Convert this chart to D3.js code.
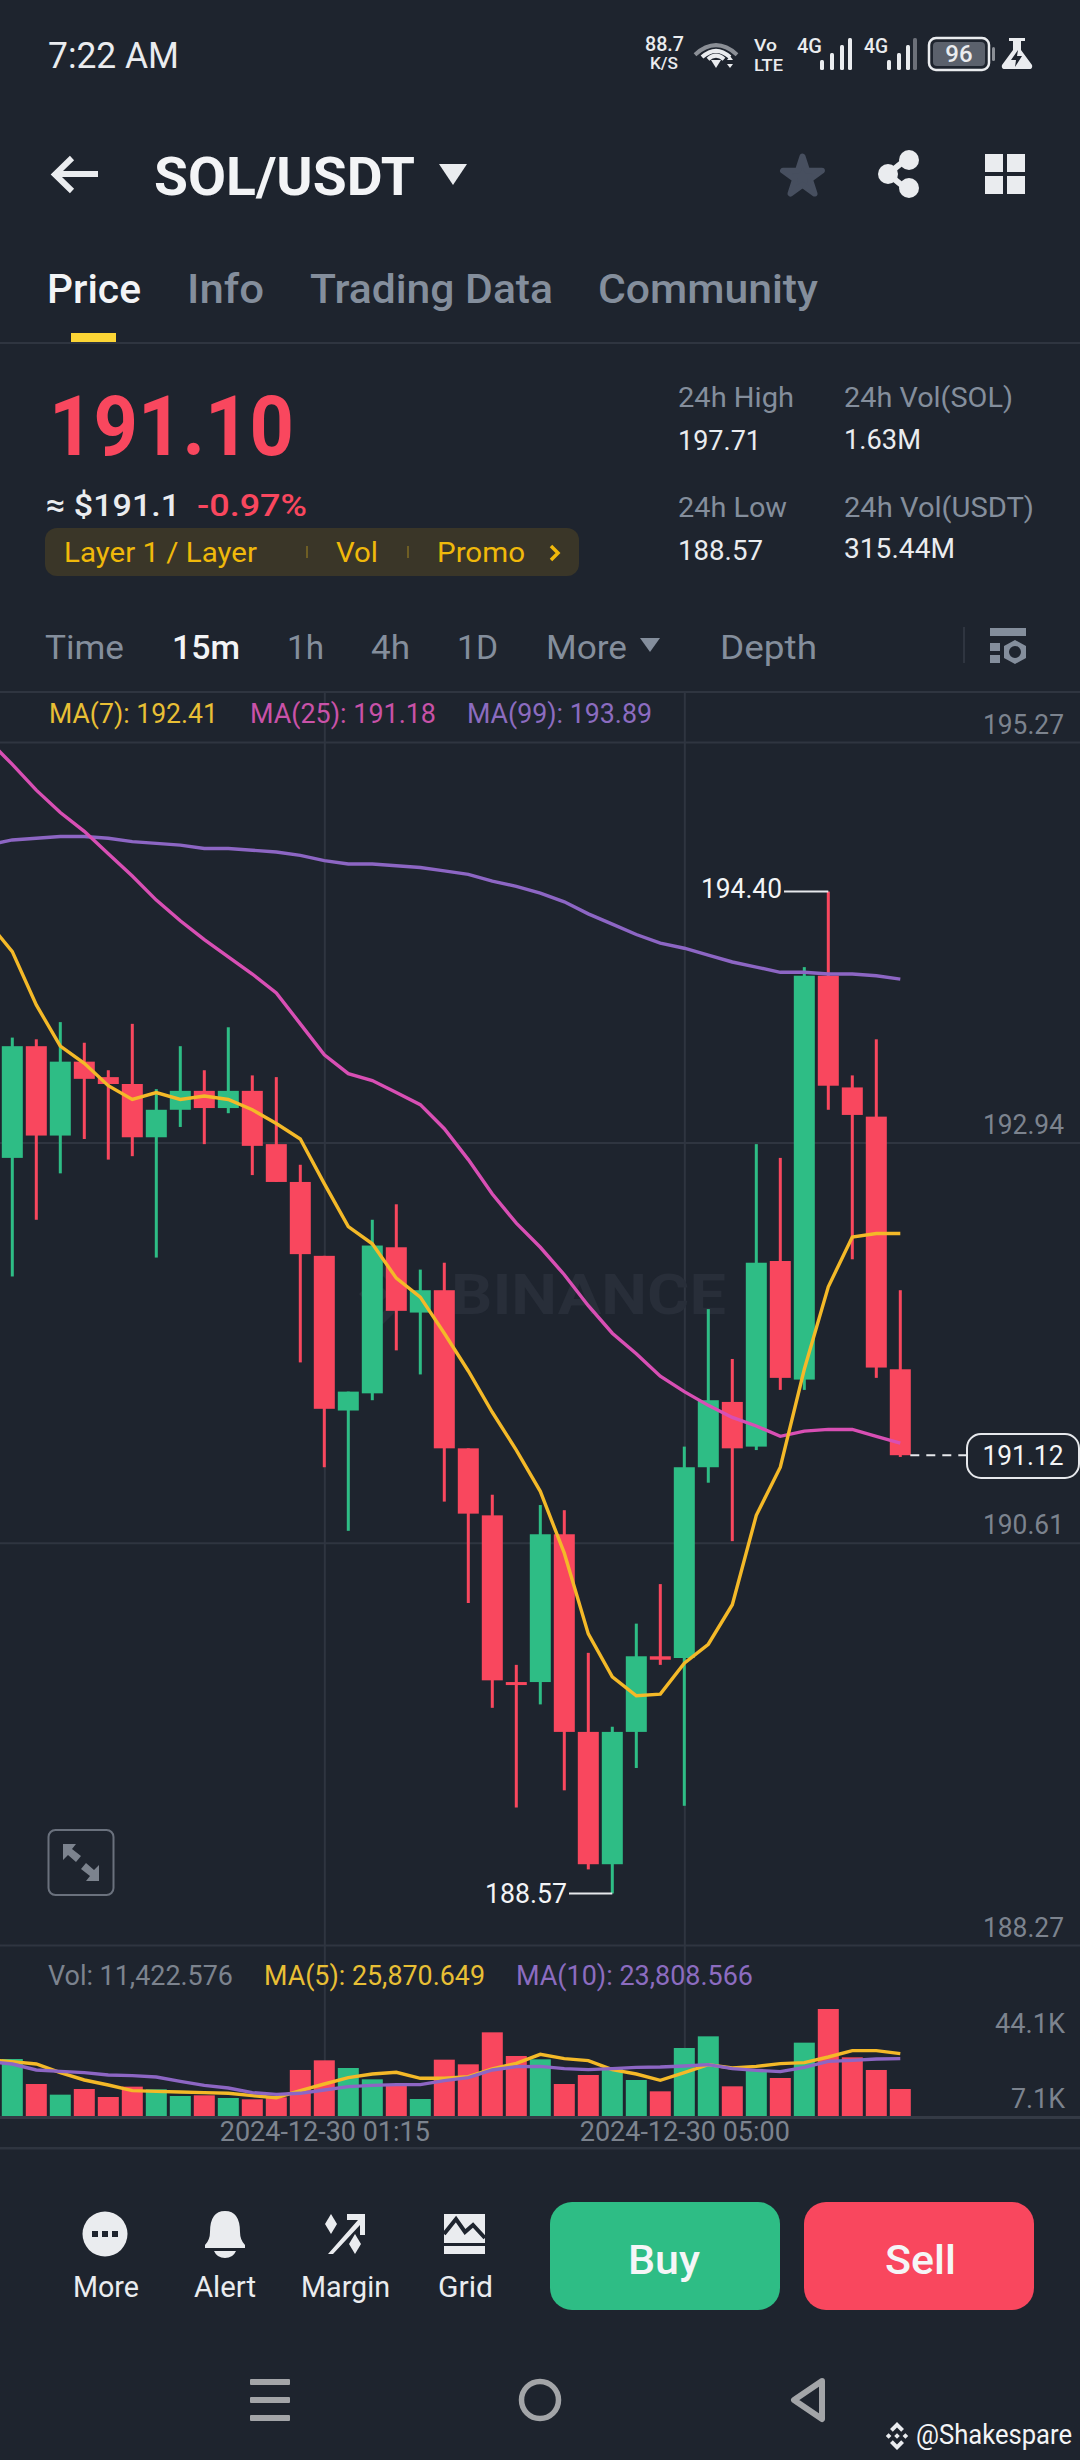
<!DOCTYPE html>
<html>
<head>
<meta charset="utf-8">
<script src="https://cdnjs.cloudflare.com/ajax/libs/d3/7.8.5/d3.min.js"></script>
<style>
html,body{margin:0;padding:0;background:#1e242e;}
svg{display:block;font-family:Roboto,"Noto Sans",sans-serif;}
</style>
</head>
<body>
<svg id="c" width="1080" height="2460"></svg>
<script>
// ---------- data ----------
const candleOpen  = [192.85,193.50,192.98,193.41,193.32,193.28,192.97,193.13,193.24,193.14,193.24,192.93,192.71,192.28,191.38,191.48,192.33,191.95,192.08,191.16,190.77,189.80,189.80,190.66,189.51,188.74,189.51,189.95,189.94,191.05,191.43,191.17,192.25,191.56,193.91,193.26,193.09,191.62];
const candleClose = [193.50,192.98,193.41,193.31,193.28,192.97,193.13,193.24,193.14,193.24,192.92,192.71,192.29,191.39,191.49,192.34,191.96,192.08,191.16,190.78,189.81,189.79,190.66,189.51,188.74,189.51,189.95,189.93,191.05,191.44,191.16,192.24,191.57,193.91,193.27,193.10,191.63,191.12];
const candleHigh  = [193.55,193.54,193.64,193.52,193.36,193.63,193.25,193.50,193.36,193.61,193.33,193.32,192.81,192.28,191.49,192.49,192.58,192.20,192.24,191.16,190.89,189.90,190.83,190.80,189.97,189.54,190.14,190.37,191.17,191.97,191.68,192.93,192.85,193.96,194.40,193.33,193.54,192.08];
const candleLow   = [192.16,192.49,192.76,192.96,192.84,192.86,192.27,193.03,192.93,193.11,192.75,192.71,191.66,191.05,190.68,191.44,191.73,191.59,190.85,190.26,189.65,189.07,189.67,189.17,188.71,188.57,189.30,189.90,189.08,190.96,190.62,191.15,191.50,191.50,193.13,192.26,191.57,191.11];
// moving averages: first value belongs to the candle just off the left edge
const ma7  = [194.22,194.05,193.74,193.50,193.40,193.27,193.19,193.23,193.19,193.21,193.19,193.13,193.05,192.96,192.70,192.45,192.35,192.15,192.04,191.83,191.61,191.37,191.15,190.91,190.55,190.08,189.83,189.72,189.73,189.91,190.02,190.25,190.77,191.05,191.62,192.10,192.39,192.41,192.41];
const ma25 = [195.28,195.14,194.99,194.86,194.75,194.62,194.49,194.35,194.23,194.12,194.02,193.92,193.81,193.63,193.45,193.34,193.30,193.23,193.16,193.02,192.84,192.64,192.47,192.33,192.17,191.99,191.83,191.71,191.58,191.49,191.41,191.34,191.29,191.23,191.26,191.27,191.27,191.23,191.19];
const ma99 = [194.67,194.70,194.71,194.72,194.72,194.71,194.69,194.68,194.67,194.65,194.65,194.64,194.63,194.61,194.58,194.56,194.56,194.55,194.54,194.52,194.50,194.46,194.43,194.39,194.34,194.27,194.21,194.15,194.10,194.07,194.03,193.99,193.96,193.93,193.93,193.92,193.92,193.91,193.89];
const volume = [23660,13460,9110,11420,8160,12380,11290,8570,8840,7750,7210,8020,19180,23120,19990,15370,12650,7340,23390,21490,34540,24890,23530,13460,17140,19990,15100,10470,28150,32910,12510,19180,15910,30330,44060,24340,19180,11423];
const volMa5  = [23260,22580,21620,18090,15100,13060,10740,10470,10200,9930,9660,8700,7890,10740,13460,16050,17540,18220,15780,15780,16460,19580,21900,25570,23800,22980,19310,17540,14960,18090,21350,19990,20670,21760,22170,24480,27060,27060,25871];
const volMa10 = [22580,21620,19180,18630,18090,17140,16860,16320,14550,12920,11830,9930,9250,9660,11020,12380,12920,13190,13190,14820,16050,19180,20540,20670,19720,19310,19720,20260,20400,20810,21350,19720,19040,18500,20260,22710,23120,23660,23809];
const priceTicks = [195.27,192.94,190.61,188.27];
const timeTickIndex = [13,28];
const timeTickLabels = ["2024-12-30 01:15","2024-12-30 05:00"];
const lastPrice = 191.12, peakPrice = 194.40, troughPrice = 188.57;
const peakIndex = 34, troughIndex = 25, lastIndex = 37;

// ---------- palette ----------
const BG="#1e242e", GRID="#2f3540", GREEN="#2ebd85", RED="#f9475e", YEL="#f0b90b", LINE7="#f4b928", LINE25="#d84fb4", LINE99="#8d66c4";
const TXT="#eaecef", GREY="#848e9c", AXIS="#7c838e";

const svg=d3.select("#c");
const T=(x,y,s,size,fill,o={})=>{
  const t=svg.append("text").attr("x",x).attr("y",y).attr("font-size",size).attr("fill",fill).text(s);
  if(o.w){t.attr("textLength",o.w).attr("lengthAdjust","spacingAndGlyphs");}
  if(o.weight)t.attr("font-weight",o.weight);
  if(o.anchor)t.attr("text-anchor",o.anchor);
  return t;
};
const P=(d,fill,extra={})=>{const p=svg.append("path").attr("d",d).attr("fill",fill);for(const k in extra)p.attr(k,extra[k]);return p;};
const R=(x,y,w,h,fill,r=0)=>svg.append("rect").attr("x",x).attr("y",y).attr("width",w).attr("height",h).attr("fill",fill).attr("rx",r);

// ---------- scales ----------
const x=d3.scaleLinear().domain([0,37]).range([12.3,900.3]);
const y=d3.scaleLinear().domain([195.27,188.27]).range([742,1945]);
const yVol=d3.scaleLinear().domain([0,44060]).range([2117,2009]);
const BODY=21, WICK=3;

// ---------- status bar ----------
T(48,68,"7:22 AM",36,TXT,{w:131});
T(645,51,"88.7",20,TXT,{w:39,weight:500});
T(650,69,"K/S",17,TXT,{w:28,weight:500});
// wifi
[[21,"#8b8f96"],[14,TXT],[8,TXT]].forEach(([r,c])=>P(`M${716-r} ${62-r*0.35} Q716 ${62-r*1.25} ${716+r} ${62-r*0.35}`,"none",{stroke:c,"stroke-width":4}));
P("M711 60 H721 L716 68 Z",TXT);
P("M727 60 L730 56 L733 60 Z M727 64 H733 L730 68 Z",TXT);
T(754,51,"Vo",17,TXT,{w:23,weight:500});
T(754,71,"LTE",17,TXT,{w:29,weight:500});
T(797,53,"4G",20,TXT,{w:25,weight:500});
T(864,53,"4G",20,TXT,{w:24,weight:500});
[[820,60,TXT],[830,53,TXT],[840,45,TXT],[848,38,TXT],[887,60,TXT],[897,53,TXT],[906,45,TXT],[913,38,"#6c7079"]].forEach(([bx,by,c])=>R(bx,by,4,70-by,c,1.5));
R(929,38,60,32,"none",7).attr("stroke",TXT).attr("stroke-width",2.5);
R(933,42,52,24,"#5b616c",4);
T(959,62,"96",24,TXT,{anchor:"middle",weight:500});
R(992,47,3,14,"#8b8f96",1.5);
P("M1009 38 H1025 V41 H1021 V50 L1032 65 Q1033 69 1029 69 H1005 Q1001 69 1002 65 L1013 50 V41 H1009 Z",TXT);
P("M1018 50 L1011 60 H1016 L1015 67 L1022 56 H1017 Z",BG);

// ---------- header ----------
P("M98 174 H56 M72 158 L55 174.5 L72 191","none",{stroke:TXT,"stroke-width":6});
T(154,195,"SOL/USDT",53,"#f3f4f6",{w:261,weight:700});
P("M439 164 H467 L453 185 Z",TXT);
svg.append("path").attr("d",d3.symbol().type(d3.symbolStar).size(470)()).attr("transform","translate(802.5,177)").attr("fill","#474f5f").attr("stroke","#474f5f").attr("stroke-width",6).attr("stroke-linejoin","round");
P("M909 157 L888 174 L909 191","none",{stroke:TXT,"stroke-width":6});
[[909,160],[888,174],[909,188]].forEach(([cx,cy])=>svg.append("circle").attr("cx",cx).attr("cy",cy).attr("r",10).attr("fill",TXT));
[[985,154],[1007,154],[985,176],[1007,176]].forEach(([rx,ry])=>R(rx,ry,18,18,TXT));

// ---------- tabs ----------
T(47,303,"Price",40,"#f3f4f6",{w:94,weight:500});
T(187,303,"Info",40,GREY,{w:77,weight:500});
T(310,303,"Trading Data",40,GREY,{w:243,weight:500});
T(598,303,"Community",40,GREY,{w:220,weight:500});
R(71,333,45,9,"#fcd535");
R(0,342,1080,2,GRID);

// ---------- price block ----------
T(49,455,"191.10",84,RED,{w:245,weight:700});
T(46,516,"≈ $191.1",32,TXT,{w:134,weight:500});
T(197,516,"-0.97%",32,RED,{w:110,weight:500});
R(45,528,534,48,"#3a3628",12);
T(64,562,"Layer 1 / Layer",28,YEL,{w:193});
R(306,546,2,12,"#6e5e24");
T(336,562,"Vol",28,YEL,{w:42});
R(407,546,2,12,"#6e5e24");
T(437,562,"Promo",28,YEL,{w:88});
P("M551 546 L558 553 L551 560","none",{stroke:YEL,"stroke-width":3.5});
T(678,407,"24h High",28,GREY,{w:116});
T(844,407,"24h Vol(SOL)",28,GREY,{w:169});
T(678,450,"197.71",28,TXT,{w:83});
T(844,449,"1.63M",28,TXT,{w:77});
T(678,517,"24h Low",28,GREY,{w:109});
T(844,517,"24h Vol(USDT)",28,GREY,{w:190});
T(678,560,"188.57",28,TXT,{w:85});
T(844,558,"315.44M",28,TXT,{w:111});

// ---------- interval row ----------
T(45,659,"Time",34,GREY,{w:79});
T(172,659,"15m",34,"#f3f4f6",{w:68,weight:500});
T(287,659,"1h",34,GREY,{w:37});
T(371,659,"4h",34,GREY,{w:39});
T(457,659,"1D",34,GREY,{w:41});
T(546,659,"More",34,GREY,{w:81});
P("M640 638 H660 L650 652 Z",GREY);
T(720,659,"Depth",34,GREY,{w:97});
R(963,627,2,36,GRID);
R(990,628,36,8,GREY);
R(990,643,10,8,GREY);
R(990,655,10,8,GREY);
P("M1015 640 L1026 646 V658 L1015 664 L1004 658 V646 Z M1015 646 A6 6 0 1 0 1015 658 A6 6 0 1 0 1015 646 Z",GREY,{"fill-rule":"evenodd"});
R(0,691,1080,2,GRID);

// ---------- chart grid, drawn by d3 axes ----------
const gridY=svg.append("g").call(d3.axisRight(y).tickValues(priceTicks).tickSize(1080).tickFormat(d3.format(".2f")));
gridY.select(".domain").remove();
gridY.selectAll("line").attr("stroke",GRID).attr("stroke-width",2);
gridY.selectAll("text").attr("x",1064).attr("dy",-9).attr("text-anchor","end").attr("font-size",27).attr("fill",AXIS).attr("font-family","Roboto").attr("textLength",81).attr("lengthAdjust","spacingAndGlyphs");

const gridX=svg.append("g").attr("transform","translate(0,2117)")
  .call(d3.axisBottom(x).tickValues(timeTickIndex).tickSize(-1425).tickPadding(0).tickFormat((d,i)=>timeTickLabels[i]));
gridX.select(".domain").remove();
gridX.selectAll("line").attr("stroke",GRID).attr("stroke-width",2);
gridX.selectAll("text").attr("y",24).attr("dy",0).attr("font-size",27).attr("fill",AXIS).attr("font-family","Roboto").attr("textLength",210).attr("lengthAdjust","spacingAndGlyphs");

// ---------- watermark ----------
const logo=(cx,cy,s,c)=>{
  const d=(px,py,r)=>`M${px} ${py-r} L${px+r} ${py} L${px} ${py+r} L${px-r} ${py} Z`;
  P(d(cx,cy,s*.2)+d(cx-s*.6,cy,s*.2)+d(cx+s*.6,cy,s*.2)
    +`M${cx} ${cy-s} L${cx+s*.5} ${cy-s*.5} L${cx+s*.3} ${cy-s*.3} L${cx} ${cy-s*.6} L${cx-s*.3} ${cy-s*.3} L${cx-s*.5} ${cy-s*.5} Z`
    +`M${cx} ${cy+s} L${cx+s*.5} ${cy+s*.5} L${cx+s*.3} ${cy+s*.3} L${cx} ${cy+s*.6} L${cx-s*.3} ${cy+s*.3} L${cx-s*.5} ${cy+s*.5} Z`,c);
};
logo(383,1294,30,"#282e39");
T(451,1314,"BINANCE",56,"#282e39",{w:275,weight:700});

// ---------- candles ----------
const idx=d3.range(candleOpen.length);
const isUp=i=>candleClose[i]>=candleOpen[i];
const col=i=>isUp(i)?GREEN:RED;
svg.append("g").selectAll("rect").data(idx).join("rect")
  .attr("x",i=>x(i)-WICK/2).attr("width",WICK)
  .attr("y",i=>y(candleHigh[i])).attr("height",i=>y(candleLow[i])-y(candleHigh[i]))
  .attr("fill",col);
svg.append("g").selectAll("rect").data(idx).join("rect")
  .attr("x",i=>x(i)-BODY/2).attr("width",BODY)
  .attr("y",i=>y(Math.max(candleOpen[i],candleClose[i])))
  .attr("height",i=>Math.max(3,Math.abs(y(candleOpen[i])-y(candleClose[i]))))
  .attr("fill",col);

// ---------- moving averages ----------
const lineP=d3.line().x((d,i)=>x(i-1)).y(d=>y(d));
[[ma99,LINE99],[ma25,LINE25],[ma7,LINE7]].forEach(([s,c])=>svg.append("path").attr("d",lineP(s)).attr("fill","none").attr("stroke",c).attr("stroke-width",3.4));

// ---------- legends ----------
T(49,723,"MA(7): 192.41",28,"#e8bf35",{w:169});
T(250,723,"MA(25): 191.18",28,"#c952a8",{w:186});
T(467,723,"MA(99): 193.89",28,"#8c6cc0",{w:185});

// ---------- annotations ----------
T(701,898,"194.40",28,"#f3f4f6",{w:81});
P(`M784 ${y(peakPrice)} H${x(peakIndex)}`,"none",{stroke:"#e6e8ec","stroke-width":2});
T(485,1903,"188.57",28,"#f3f4f6",{w:82});
P(`M569 ${y(troughPrice)} H${x(troughIndex)}`,"none",{stroke:"#e6e8ec","stroke-width":2});
P(`M${x(lastIndex)+10} ${y(lastPrice)} H966`,"none",{stroke:"#e6e8ec","stroke-width":2,"stroke-dasharray":"9 7"});
R(967,1434,112,44,BG,14).attr("stroke","#e6e8ec").attr("stroke-width",2);
T(1023,1465,"191.12",27,"#f3f4f6",{anchor:"middle",w:81});

// expand button
R(48.5,1830,65,65,"none",7).attr("stroke","#6a717d").attr("stroke-width",2);
P("M63 1844 H76 L72 1849 L81 1856 L76 1862 L68 1855 L63 1860 Z",AXIS);
P("M99 1881 H86 L90 1876 L81 1869 L86 1863 L94 1870 L99 1865 Z",AXIS);

// ---------- volume panel ----------
T(48,1985,"Vol: 11,422.576",27,AXIS,{w:185});
T(264,1985,"MA(5): 25,870.649",27,"#e8bf35",{w:221});
T(516,1985,"MA(10): 23,808.566",27,"#8c6cc0",{w:237});
T(1065,2033,"44.1K",27,AXIS,{anchor:"end",w:70});
T(1065,2108,"7.1K",27,AXIS,{anchor:"end",w:54});
svg.append("g").selectAll("rect").data(idx).join("rect")
  .attr("x",i=>x(i)-BODY/2).attr("width",BODY)
  .attr("y",i=>yVol(volume[i])).attr("height",i=>yVol(0)-yVol(volume[i]))
  .attr("fill",col);
const lineV=d3.line().x((d,i)=>x(i-1)).y(d=>yVol(d));
svg.append("path").attr("d",lineV(volMa5)).attr("fill","none").attr("stroke",LINE7).attr("stroke-width",3.4);
svg.append("path").attr("d",lineV(volMa10)).attr("fill","none").attr("stroke",LINE99).attr("stroke-width",3.4);
R(0,2116,1080,3,"#343a45");
R(0,2147,1080,2.5,GRID);

// ---------- bottom bar ----------
svg.append("circle").attr("cx",105).attr("cy",2234).attr("r",22.5).attr("fill",TXT);
[92,102,112].forEach(dx=>R(dx,2231,6,6,BG));
P("M205 2245 Q210 2240 210 2232 Q210 2211 225 2211 Q240 2211 240 2232 Q240 2240 245 2245 V2248 H205 Z M214 2251 H236 Q233 2258 225 2258 Q217 2258 214 2251 Z",TXT);
P("M328 2254 L358 2220 H347 V2214 H365 V2235 L360 2235 V2225 L333 2254 Z",TXT);
[[331,2224],[355,2244]].forEach(([a,b])=>P(`M${a} ${b-10} L${a+6} ${b} L${a} ${b+10} L${a-6} ${b} Z`,TXT));
P("M444 2214 H485 V2243 H444 Z",TXT);
P("M444 2234 L456 2219 L465 2232 L473 2225 L485 2238","none",{stroke:BG,"stroke-width":4});
R(444,2246,41,8,TXT);
T(73,2297,"More",29,TXT,{w:66});
T(194,2297,"Alert",29,TXT,{w:62});
T(301,2297,"Margin",29,TXT,{w:89});
T(438,2297,"Grid",29,TXT,{w:55});
R(550,2202,230,108,GREEN,22);
R(804,2202,230,108,RED,22);
T(628,2274,"Buy",41,"#f5f6f7",{w:72,weight:500});
T(885,2274,"Sell",41,"#f5f6f7",{w:71,weight:500});

// nav
[2379,2397,2415].forEach(ny=>R(250,ny,40,6,"#a3a5a8",1));
svg.append("circle").attr("cx",540).attr("cy",2400).attr("r",18.5).attr("fill","none").attr("stroke","#a3a5a8").attr("stroke-width",5.5);
P("M822 2381 L794 2400 L822 2419 Z","none",{stroke:"#a3a5a8","stroke-width":6,"stroke-linejoin":"round"});

// credit
logo(897,2436,14,TXT);
T(916,2444,"@Shakespare",28,"#f3f4f6",{w:156});
</script>
</body>
</html>
